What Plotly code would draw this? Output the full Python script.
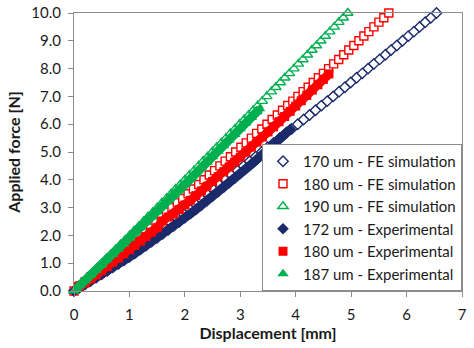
import plotly.graph_objects as go

# ---------------- data ----------------
FE_FORCE = [0.00, 0.17, 0.33, 0.50, 0.67, 0.83, 1.00, 1.17, 1.33, 1.50, 1.67, 1.83, 2.00, 2.17, 2.33,
            2.50, 2.67, 2.83, 3.00, 3.17, 3.33, 3.50, 3.67, 3.83, 4.00, 4.17, 4.33, 4.50, 4.67, 4.83,
            5.00, 5.17, 5.33, 5.50, 5.67, 5.83, 6.00, 6.17, 6.33, 6.50, 6.67, 6.83, 7.00, 7.17, 7.33,
            7.50, 7.67, 7.83, 8.00, 8.17, 8.33, 8.50, 8.67, 8.83, 9.00, 9.17, 9.33, 9.50, 9.67, 9.83, 10.00]

FE170_DISP = [0.000, 0.117, 0.233, 0.349, 0.465, 0.580, 0.696, 0.811, 0.925, 1.040, 1.155, 1.268, 1.382,
              1.496, 1.609, 1.722, 1.835, 1.947, 2.060, 2.172, 2.283, 2.395, 2.506, 2.617, 2.728, 2.838,
              2.948, 3.058, 3.168, 3.277, 3.386, 3.495, 3.603, 3.712, 3.820, 3.928, 4.036, 4.143, 4.250,
              4.357, 4.464, 4.569, 4.676, 4.782, 4.887, 4.992, 5.098, 5.202, 5.306, 5.411, 5.514, 5.618,
              5.722, 5.825, 5.928, 6.031, 6.133, 6.235, 6.337, 6.438, 6.540]

FE180_DISP = [0.000, 0.100, 0.199, 0.299, 0.398, 0.497, 0.596, 0.694, 0.793, 0.891, 0.989, 1.087, 1.185,
              1.283, 1.380, 1.477, 1.575, 1.671, 1.768, 1.865, 1.961, 2.058, 2.154, 2.250, 2.345, 2.441,
              2.536, 2.632, 2.727, 2.822, 2.917, 3.011, 3.106, 3.200, 3.294, 3.388, 3.481, 3.575, 3.668,
              3.762, 3.855, 3.948, 4.040, 4.133, 4.225, 4.317, 4.409, 4.501, 4.593, 4.685, 4.776, 4.867,
              4.958, 5.049, 5.140, 5.230, 5.320, 5.411, 5.501, 5.590, 5.680]

FE190_DISP = [0.000, 0.084, 0.168, 0.252, 0.336, 0.419, 0.503, 0.587, 0.670, 0.754, 0.837, 0.921, 1.004,
              1.087, 1.171, 1.254, 1.337, 1.420, 1.503, 1.586, 1.669, 1.752, 1.835, 1.917, 2.000, 2.083,
              2.165, 2.248, 2.330, 2.413, 2.495, 2.577, 2.660, 2.742, 2.824, 2.906, 2.988, 3.070, 3.152,
              3.234, 3.316, 3.397, 3.479, 3.561, 3.642, 3.724, 3.805, 3.887, 3.968, 4.049, 4.131, 4.212,
              4.293, 4.374, 4.455, 4.536, 4.617, 4.698, 4.779, 4.859, 4.940]

EXP172_DISP = [0.0, 0.1, 0.2, 0.3, 0.4, 0.5, 0.6, 0.7, 0.8, 0.9, 1.0, 1.1, 1.2, 1.3, 1.4, 1.5, 1.6, 1.7,
               1.8, 1.9, 2.0, 2.1, 2.2, 2.3, 2.4, 2.5, 2.6, 2.7, 2.8, 2.9, 3.0, 3.1, 3.2, 3.3, 3.4, 3.5,
               3.6, 3.7, 3.8, 3.9]
EXP172_FORCE = [0.000, 0.114, 0.230, 0.347, 0.467, 0.588, 0.711, 0.836, 0.963, 1.092, 1.222, 1.355,
                1.489, 1.625, 1.763, 1.903, 2.044, 2.188, 2.333, 2.480, 2.629, 2.780, 2.933, 3.087,
                3.244, 3.402, 3.562, 3.724, 3.888, 4.053, 4.221, 4.390, 4.561, 4.734, 4.909, 5.086,
                5.264, 5.445, 5.627, 5.811]

EXP180_DISP = [-0.03, 0.1, 0.2, 0.3, 0.4, 0.5, 0.6, 0.7, 0.8, 0.9, 1.0, 1.1, 1.2, 1.3, 1.4, 1.5, 1.6,
               1.7, 1.8, 1.9, 2.0, 2.1, 2.2, 2.3, 2.4, 2.5, 2.6, 2.7, 2.8, 2.9, 3.0, 3.1, 3.2, 3.3, 3.4,
               3.5, 3.6, 3.7, 3.8, 3.9, 4.0, 4.1, 4.2, 4.3, 4.4, 4.5, 4.6]
EXP180_FORCE = [0.12, 0.17, 0.289, 0.435, 0.582, 0.731, 0.880, 1.031, 1.183, 1.336, 1.490, 1.645,
                1.801, 1.959, 2.118, 2.278, 2.520, 2.660, 2.765, 2.930, 3.095, 3.262, 3.430, 3.599,
                3.770, 3.941, 4.114, 4.288, 4.463, 4.639, 4.816, 4.995, 5.174, 5.355, 5.537, 5.720,
                5.904, 6.090, 6.276, 6.464, 6.653, 6.843, 7.034, 7.226, 7.420, 7.614, 7.810]

EXP187_DISP = [0.0, 0.1, 0.2, 0.3, 0.4, 0.5, 0.6, 0.7, 0.8, 0.9, 1.0, 1.1, 1.2, 1.3, 1.4, 1.5, 1.6, 1.7,
               1.8, 1.9, 2.0, 2.1, 2.2, 2.3, 2.4, 2.5, 2.6, 2.7, 2.8, 2.9, 3.0, 3.1, 3.2, 3.3, 3.35]
EXP187_FORCE = [0.000, 0.186, 0.373, 0.560, 0.748, 0.936, 1.125, 1.314, 1.505, 1.695, 1.887, 2.079,
                2.271, 2.464, 2.658, 2.852, 3.047, 3.242, 3.438, 3.635, 3.832, 4.030, 4.228, 4.427,
                4.627, 4.827, 5.028, 5.229, 5.431, 5.633, 5.837, 6.040, 6.244, 6.449, 6.552]

X_TICKS = [0, 1, 2, 3, 4, 5, 6, 7]
Y_TICKS = [0, 1, 2, 3, 4, 5, 6, 7, 8, 9, 10]

NAVY = "#1B2A6B"
RED = "#FF0000"
GREEN = "#00B050"
AXIS_GRAY = "#8C8C8C"
TEXT = "#1a1a1a"
FONT = "Lato"

fig = go.Figure()

# FE simulations (hollow markers with white fill)
fe_series = [
    ("170 um - FE simulation", FE170_DISP, NAVY, "diamond", 8),
    ("180 um - FE simulation", FE180_DISP, RED, "square", 8),
    ("190 um - FE simulation", FE190_DISP, GREEN, "triangle-up", 9),
]
for name, disp, col, sym, sz in fe_series:
    fig.add_trace(go.Scatter(
        x=disp, y=FE_FORCE, mode="markers", name=name, cliponaxis=False,
        marker=dict(symbol=sym, size=sz, color="white", line=dict(color=col, width=1.4)),
    ))

# Experimental (dense filled markers)
exp_series = [
    ("172 um - Experimental", EXP172_DISP, EXP172_FORCE, NAVY, "diamond", 9),
    ("180 um - Experimental", EXP180_DISP, EXP180_FORCE, RED, "square", 9),
    ("187 um - Experimental", EXP187_DISP, EXP187_FORCE, GREEN, "triangle-up", 10),
]
for name, disp, force, col, sym, sz in exp_series:
    fig.add_trace(go.Scatter(
        x=disp, y=force, mode="lines", showlegend=False, cliponaxis=False, hoverinfo="skip",
        line=dict(color=col, width=9),
    ))
    fig.add_trace(go.Scatter(
        x=disp, y=force, mode="markers", name=name, cliponaxis=False,
        marker=dict(symbol=sym, size=sz, color=col, line=dict(width=0)),
    ))

axis_common = dict(
    showline=True, linecolor=AXIS_GRAY, linewidth=1, mirror=True,
    ticks="outside", ticklen=5, tickcolor=AXIS_GRAY, tickwidth=1,
    showgrid=False, zeroline=False, automargin=False,
    tickfont=dict(family=FONT, size=15, color=TEXT),
)

fig.update_xaxes(
    range=[0, 7], tickvals=X_TICKS, ticktext=[str(v) for v in X_TICKS], ticklabelstandoff=5,
    title=dict(text="<b>Displacement [mm]</b>", font=dict(family=FONT, size=16, color=TEXT), standoff=4),
    **axis_common,
)
fig.update_yaxes(
    range=[0, 10], tickvals=Y_TICKS, ticktext=[f"{v:.1f}" for v in Y_TICKS], ticklabelstandoff=4,
    title=dict(text="<b>Applied force [N]</b>", font=dict(family=FONT, size=16, color=TEXT), standoff=6),
    **axis_common,
)

fig.update_layout(
    width=474, height=348,
    margin=dict(l=74, r=12, t=13, b=57, autoexpand=False),
    paper_bgcolor="white", plot_bgcolor="white",
    font=dict(family=FONT, color=TEXT),
    legend=dict(
        x=1, xanchor="right", y=0, yanchor="bottom",
        bgcolor="white", bordercolor=AXIS_GRAY, borderwidth=1,
        font=dict(family=FONT, size=15, color=TEXT),
        tracegroupgap=0, itemwidth=30,
    ),
    showlegend=True,
)

fig.write_html("out.html")
